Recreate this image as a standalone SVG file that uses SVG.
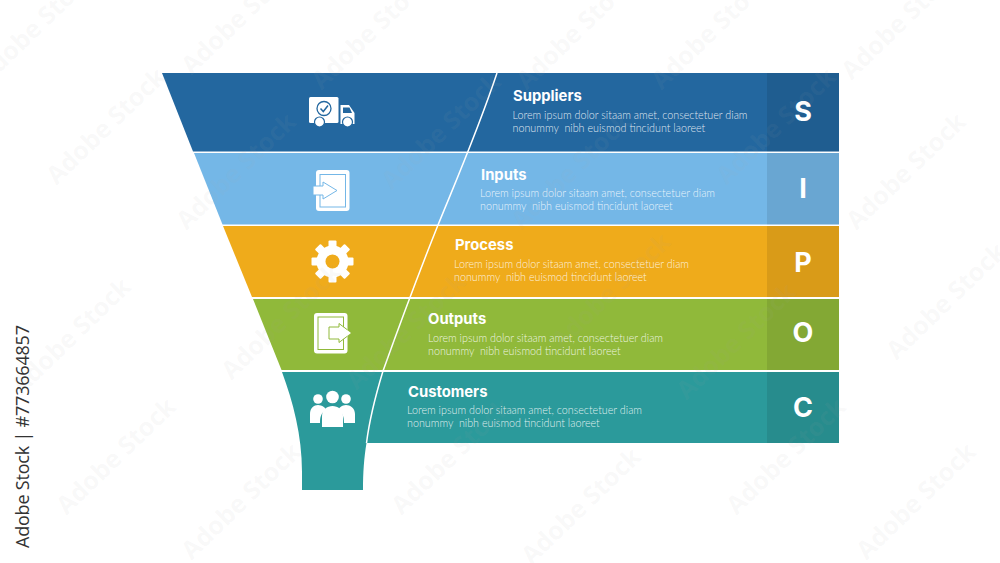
<svg xmlns="http://www.w3.org/2000/svg" width="1000" height="563" viewBox="0 0 1000 563">
<style>
.h{font-family:Inter,"Open Sans","Liberation Sans",sans-serif;font-weight:700;font-size:14.8px;fill:#fff}
.b{font-family:Lato,"Open Sans","Liberation Sans",sans-serif;font-weight:300;font-size:10.75px;fill:#fff;fill-opacity:.85;white-space:pre}
.l{font-family:Inter,"Open Sans","Liberation Sans",sans-serif;font-weight:700;font-size:27px;fill:#fff;text-anchor:middle}
.col{fill:#000;fill-opacity:.09}
.w{fill:#fff}
.wm{font-family:"Open Sans","Liberation Sans",sans-serif;font-weight:700;font-size:25px;fill:#a8a8a8;fill-opacity:.08;text-anchor:middle}
.side{font-family:"Open Sans","Liberation Sans",sans-serif;font-size:18px;fill:#333}
</style>
<defs>
<text id="wm" class="wm" x="0" y="10" transform="rotate(-44)">Adobe Stock</text>
<rect id="tooth" class="w" x="-4" y="-21" width="8" height="10" rx="1"/>
</defs>
<rect width="1000" height="563" fill="#fff"/>

<g id="node-suppliers">
<path d="M162,73H839V151.500H193Z" fill="#23679f"/>
<rect class="col" x="767" y="73" width="72" height="78.500"/>
<g id="icon-truck">
<rect class="w" x="309" y="97" width="29.500" height="26" rx="1.500"/>
<path class="w" d="M340.500,105H349L354.500,113V124H340.500Z"/>
<path d="M343,107.500H349.500L352,113H343Z" fill="#23679f"/>
<circle cx="324" cy="108.500" r="7" fill="none" stroke="#23679f" stroke-width="1.300"/>
<path d="M320.500,108.500L323.300,111.500L328,105.500" fill="none" stroke="#23679f" stroke-width="1.500"/>
<circle class="w" cx="319.500" cy="122" r="5" stroke="#23679f" stroke-width="1.200"/>
<circle class="w" cx="347.500" cy="122" r="5" stroke="#23679f" stroke-width="1.200"/>
</g>
<text class="h" x="513" y="101">Suppliers</text>
<text class="b" x="512.500" y="118.500">Lorem ipsum dolor sitaam amet, consectetuer diam</text>
<text class="b" x="512.500" y="131.500">nonummy  nibh euismod tincidunt laoreet</text>
<text class="l" x="803" y="121">S</text>
</g>

<g id="node-inputs">
<path d="M194,153H839V224.500H222.500Z" fill="#74b7e7"/>
<rect class="col" x="767" y="153" width="72" height="71.500"/>
<g id="icon-input">
<rect class="w" x="316" y="170" width="33.500" height="41" rx="3"/>
<rect x="320" y="174.500" width="25.500" height="32.500" fill="none" stroke="#74b7e7" stroke-width="1"/>
<path class="w" d="M313,186H323V182L337,190.500L323,199V195H313Z" stroke="#74b7e7" stroke-width="1"/>
</g>
<text class="h" x="481" y="180">Inputs</text>
<text class="b" x="480" y="197">Lorem ipsum dolor sitaam amet, consectetuer diam</text>
<text class="b" x="480" y="210">nonummy  nibh euismod tincidunt laoreet</text>
<text class="l" x="803" y="198">I</text>
</g>

<g id="node-process">
<path d="M223,226H839V297H252Z" fill="#efab1b"/>
<rect class="col" x="767" y="226" width="72" height="71"/>
<g id="icon-gear" transform="translate(332.500,261.500)">
<circle class="w" r="16"/>
<use href="#tooth"/>
<use href="#tooth" transform="rotate(45)"/>
<use href="#tooth" transform="rotate(90)"/>
<use href="#tooth" transform="rotate(135)"/>
<use href="#tooth" transform="rotate(180)"/>
<use href="#tooth" transform="rotate(225)"/>
<use href="#tooth" transform="rotate(270)"/>
<use href="#tooth" transform="rotate(315)"/>
<circle r="7" fill="#efab1b"/>
</g>
<text class="h" x="455" y="250">Process</text>
<text class="b" x="454" y="268">Lorem ipsum dolor sitaam amet, consectetuer diam</text>
<text class="b" x="454" y="281">nonummy  nibh euismod tincidunt laoreet</text>
<text class="l" x="803" y="272">P</text>
</g>

<g id="node-outputs">
<path d="M253,299H839V370H281.500Z" fill="#90b93a"/>
<rect class="col" x="767" y="299" width="72" height="71"/>
<g id="icon-output">
<rect class="w" x="314" y="313" width="33.500" height="40.500" rx="3"/>
<rect x="318" y="317" width="25.500" height="32.500" fill="none" stroke="#90b93a" stroke-width="1"/>
<path class="w" d="M329,327H339V323.500L351,333L339,342.500V339H329Z"/>
<path d="M347.500,329.900L339,323.500V327H329V339H339V342.500L347.500,336.100" fill="none" stroke="#90b93a" stroke-width="1"/>
</g>
<text class="h" x="428" y="324">Outputs</text>
<text class="b" x="428" y="342">Lorem ipsum dolor sitaam amet, consectetuer diam</text>
<text class="b" x="428" y="355">nonummy  nibh euismod tincidunt laoreet</text>
<text class="l" x="803" y="342">O</text>
</g>

<g id="node-customers">
<path d="M282,372H839V443H366.500C364,458 363,472 363,490H302V472C302,435 293,402 282,372Z" fill="#2b9a9b"/>
<rect class="col" x="767" y="372" width="72" height="71"/>
<g id="icon-people">
<circle class="w" cx="318" cy="399" r="4.800"/>
<circle class="w" cx="346" cy="399" r="4.800"/>
<path class="w" d="M310,423V414C310,408 314,405 318,405C322,405 326,408 326,410C321,413 320,417 320,423Z"/>
<path class="w" d="M355,423V414C355,408 350,405 346,405C342,405 339,408 338,410C343,413 344,417 344,423Z"/>
<circle class="w" cx="332.500" cy="397" r="6.300"/>
<path class="w" d="M322,427V416C322,410 327,406 332.500,406C338,406 343,410 343,416V427Z"/>
</g>
<text class="h" x="408" y="397">Customers</text>
<text class="b" x="407" y="414">Lorem ipsum dolor sitaam amet, consectetuer diam</text>
<text class="b" x="407" y="427">nonummy  nibh euismod tincidunt laoreet</text>
<text class="l" x="803" y="417">C</text>
</g>

<g id="connectors">
<path d="M497,73C478,130 458,176 438,225C420,270 402,318 383,371C376,394 370,415 366.500,443" fill="none" stroke="#fff" stroke-width="1.500"/>
</g>

<g id="watermark">
<use href="#wm" transform="translate(35,25)"/><use href="#wm" transform="translate(370,30)"/><use href="#wm" transform="translate(710,30)"/>
<use href="#wm" transform="translate(240,15)"/><use href="#wm" transform="translate(575,30)"/><use href="#wm" transform="translate(900,20)"/>
<use href="#wm" transform="translate(105,125)"/><use href="#wm" transform="translate(440,130)"/><use href="#wm" transform="translate(775,125)"/>
<use href="#wm" transform="translate(235,170)"/><use href="#wm" transform="translate(570,170)"/><use href="#wm" transform="translate(905,170)"/>
<use href="#wm" transform="translate(70,335)"/><use href="#wm" transform="translate(405,330)"/><use href="#wm" transform="translate(735,340)"/>
<use href="#wm" transform="translate(280,320)"/><use href="#wm" transform="translate(610,290)"/><use href="#wm" transform="translate(945,300)"/>
<use href="#wm" transform="translate(115,455)"/><use href="#wm" transform="translate(450,455)"/><use href="#wm" transform="translate(785,455)"/>
<use href="#wm" transform="translate(240,500)"/><use href="#wm" transform="translate(580,505)"/><use href="#wm" transform="translate(915,500)"/>
</g>
<text class="side" transform="translate(29,548) rotate(-90)" textLength="223">Adobe Stock | #773664857</text>
</svg>
